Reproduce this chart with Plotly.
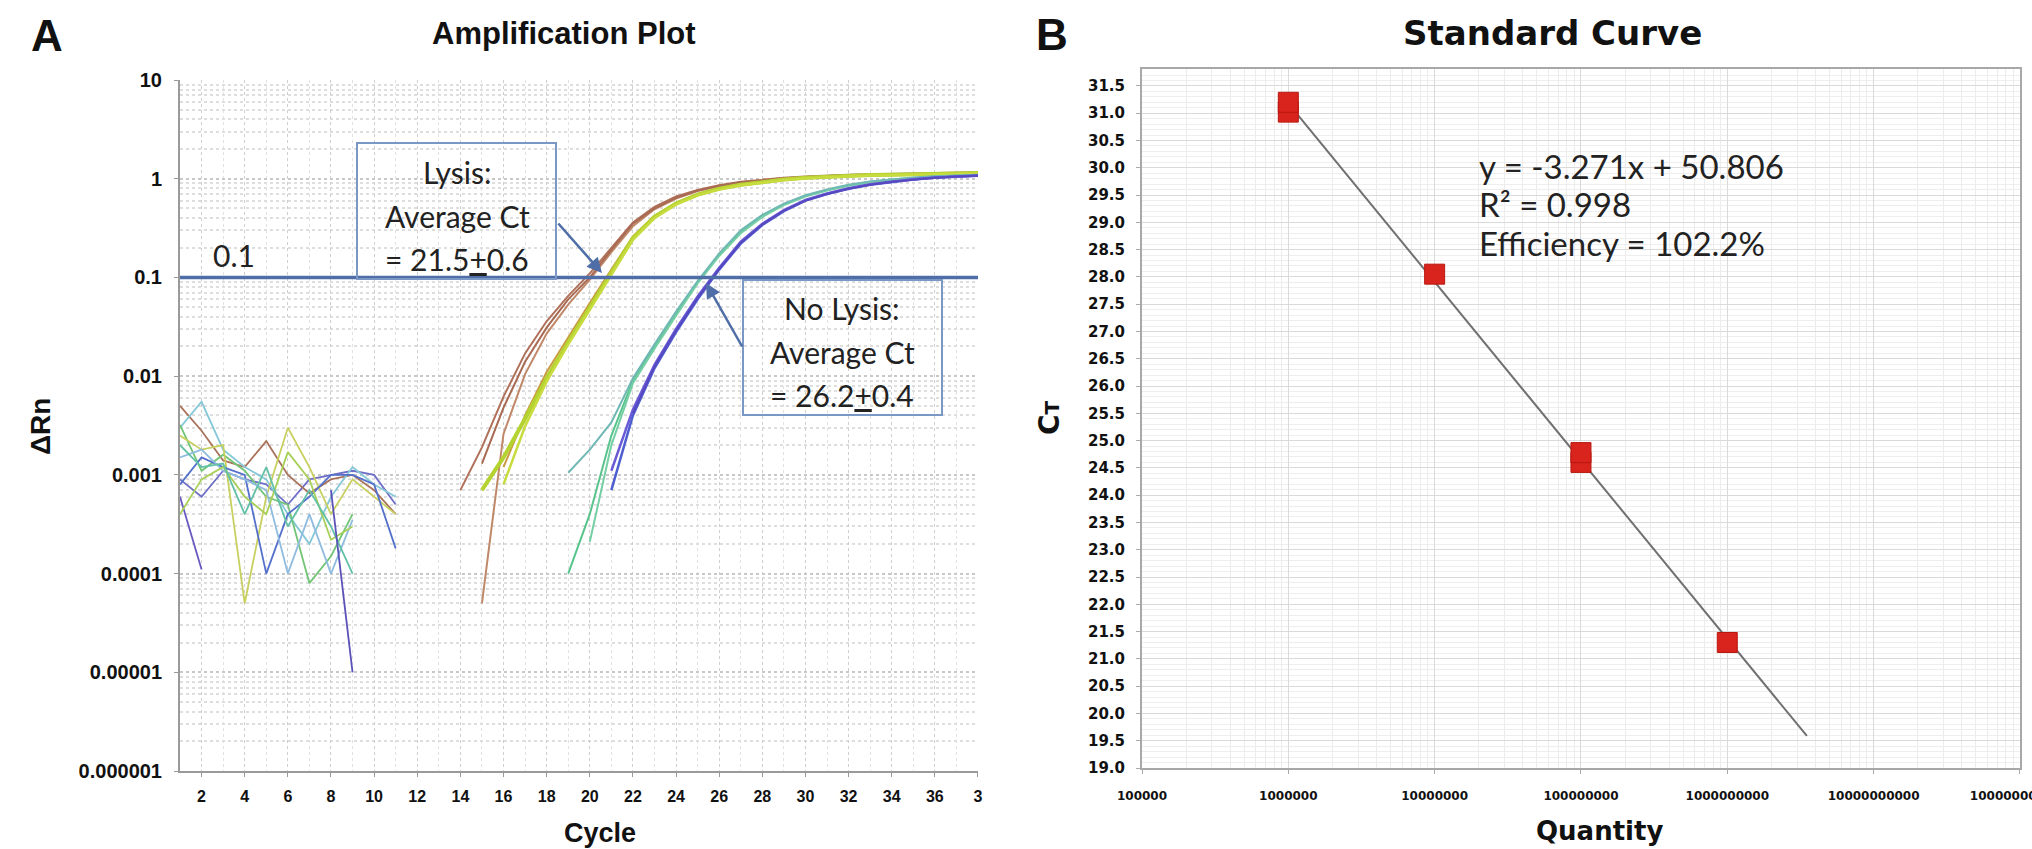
import math
import plotly.graph_objects as go

W, H = 2032, 849

# ---------------- Panel A data (cycle, delta Rn) ----------------
cycle_ticks = list(range(2, 39, 2))
cycle_ticktext = [str(c) for c in cycle_ticks[:-1]] + ["3"]
drn_ticks = [1e-6, 1e-5, 1e-4, 1e-3, 1e-2, 1e-1, 1, 10]
drn_ticktext = ["0.000001", "0.00001", "0.0001", "0.001", "0.01", "0.1", "1", "10"]
threshold = 0.1

# amplification curves (values from their first cycle up to cycle 38)
lysis_brown_1 = [0.0007, 0.0019, 0.0062, 0.017, 0.036, 0.065, 0.11, 0.2, 0.36, 0.52, 0.66, 0.77, 0.86, 0.93,
                 0.98, 1.02, 1.05, 1.08, 1.10, 1.11, 1.12, 1.13, 1.14, 1.15, 1.16]
lysis_brown_2 = [0.00005, 0.0026, 0.0105, 0.027, 0.053, 0.095, 0.18, 0.33, 0.49, 0.63, 0.75, 0.84, 0.91, 0.97,
                 1.01, 1.04, 1.07, 1.09, 1.10, 1.11, 1.12, 1.13, 1.14, 1.15]
lysis_brown_3 = [0.0013, 0.0048, 0.014, 0.031, 0.06, 0.1, 0.19, 0.35, 0.5, 0.64, 0.76, 0.85, 0.92, 0.97,
                 1.01, 1.04, 1.07, 1.09, 1.10, 1.11, 1.12, 1.13, 1.14, 1.15]
lysis_yellow_1 = [0.0007, 0.0015, 0.0037, 0.0095, 0.022, 0.05, 0.115, 0.25, 0.41, 0.56, 0.69, 0.79, 0.87, 0.93,
                  0.98, 1.02, 1.05, 1.07, 1.09, 1.10, 1.11, 1.12, 1.13, 1.14]
lysis_yellow_2 = [0.0008, 0.0031, 0.0088, 0.021, 0.047, 0.108, 0.24, 0.4, 0.55, 0.68, 0.78, 0.86, 0.92, 0.97,
                  1.01, 1.04, 1.06, 1.08, 1.09, 1.10, 1.11, 1.12, 1.13]
lysis_amber = [0.0012, 0.004, 0.011, 0.025, 0.055, 0.12, 0.26, 0.42, 0.57, 0.7, 0.8, 0.88, 0.94, 0.99,
               1.03, 1.06, 1.08, 1.10, 1.11, 1.12, 1.13, 1.14, 1.15]
nolysis_green = [0.0001, 0.0004, 0.0025, 0.009, 0.02, 0.043, 0.09, 0.17, 0.29, 0.42, 0.55, 0.67, 0.77, 0.86,
                 0.93, 0.98, 1.02, 1.05, 1.07, 1.09]
nolysis_seagreen = [0.00021, 0.002, 0.0085, 0.019, 0.041, 0.087, 0.165, 0.28, 0.41, 0.54, 0.66, 0.76, 0.85,
                    0.92, 0.97, 1.01, 1.04, 1.06, 1.08]
nolysis_teal = [0.00105, 0.0018, 0.0034, 0.0095, 0.021, 0.045, 0.092, 0.175, 0.3, 0.43, 0.56, 0.68, 0.78,
                0.87, 0.94, 0.99, 1.03, 1.06, 1.08, 1.10]
nolysis_blue = [0.0007, 0.004, 0.012, 0.028, 0.06, 0.12, 0.22, 0.34, 0.47, 0.6, 0.7, 0.79, 0.87, 0.93, 0.98,
                1.02, 1.05, 1.07]
nolysis_violet = [0.0011, 0.0046, 0.013, 0.03, 0.064, 0.125, 0.23, 0.35, 0.48, 0.61, 0.71, 0.8, 0.88, 0.94,
                  0.99, 1.03, 1.06, 1.08]
nolysis_purple = [0.0042, 0.0125, 0.029, 0.062, 0.122, 0.225, 0.345, 0.475, 0.6, 0.7, 0.79, 0.87, 0.93, 0.98,
                  1.02, 1.05, 1.07]

# baseline noise (values from cycle 1 unless noted)
noise_brown = [0.005, 0.0028, 0.0014, 0.0012, 0.0022, 0.001, 0.00065, 0.0009, 0.001, 0.0007, 0.0004]
noise_teal = [0.003, 0.0055, 0.0018, 0.0012, 0.0009, 0.0004, 0.0002, 0.0006, 0.0012, 0.0008, 0.0006]
noise_green = [0.0032, 0.0011, 0.0016, 0.0011, 0.0006, 0.0005, 0.00008, 0.00015, 0.0004]
noise_yellow = [0.0025, 0.0018, 0.002, 0.00005, 0.0006, 0.003, 0.0012, 0.0004, 0.0009, 0.0006, 0.0004]
noise_purple = [0.0006, 0.00011]
noise_blue = [0.0008, 0.0015, 0.0012, 0.001, 0.0001, 0.0004, 0.0006, 0.001, 0.001, 0.0008, 0.00018]
noise_lightblue = [0.0015, 0.0018, 0.0011, 0.0009, 0.0007, 0.0001, 0.0004, 0.0001, 0.00035]
noise_lime = [0.0004, 0.0009, 0.0012, 0.0006, 0.0004, 0.0017, 0.0009, 0.00022, 0.0003]
noise_seagreen = [0.002, 0.0012, 0.0013, 0.0004, 0.0012, 0.0003, 0.0007, 0.0003, 0.0001]
noise_darkpurple_start = 8
noise_darkpurple = [0.0007, 0.00001]
noise_indigo = [0.0009, 0.0006, 0.0011, 0.0009, 0.0008, 0.0005, 0.0009, 0.001, 0.0011, 0.001, 0.0005]

# ---------------- Panel B data ----------------
quantity = [1e6, 1e6, 1e7, 1e8, 1e8, 1e9]
ct_values = [31.02, 31.2, 28.05, 24.6, 24.78, 21.3]
fit_slope, fit_intercept = -3.271, 50.806
fit_x = [1e6, 3.5e9]
ct_ticks = [19.0 + 0.5 * i for i in range(26)]
qty_ticks = [1e5, 1e6, 1e7, 1e8, 1e9, 1e10, 1e11]
qty_ticktext = ["100000", "1000000", "10000000", "100000000", "1000000000", "10000000000", "100000000000"]

# ---------------- figure ----------------
fig = go.Figure()

def px(x, y):
    return x / W, 1 - y / H

def add_curve(start, vals, color, width):
    xs = list(range(start, start + len(vals)))
    fig.add_trace(go.Scatter(x=xs, y=vals, mode="lines", line=dict(color=color, width=width),
                             xaxis="x", yaxis="y", showlegend=False, hoverinfo="skip"))

noise = [
    (1, noise_indigo, "#7070c8"), (1, noise_brown, "#a8725a"), (1, noise_teal, "#86c8d8"),
    (1, noise_green, "#72c476"), (1, noise_yellow, "#c8d060"), (1, noise_purple, "#6a58c0"),
    (1, noise_blue, "#5470cc"), (1, noise_lightblue, "#90bce0"), (1, noise_lime, "#a8d058"),
    (1, noise_seagreen, "#62c0a6"), (noise_darkpurple_start, noise_darkpurple, "#5a52b8"),
]
for s, v, c in noise:
    add_curve(s, v, c, 1.8)

amp = [
    (14, lysis_brown_1, "#b0705a", 2.0), (15, lysis_brown_2, "#c08868", 2.0), (15, lysis_brown_3, "#a86a52", 2.0),
    (16, lysis_amber, "#c99a40", 2.0), (15, lysis_yellow_1, "#b5d330", 4.0), (16, lysis_yellow_2, "#c8dc40", 2.5),
    (19, nolysis_green, "#58c48c", 2.0), (20, nolysis_seagreen, "#74d0a4", 2.0), (19, nolysis_teal, "#70b8b4", 2.0),
    (21, nolysis_blue, "#4e5ed0", 2.5), (21, nolysis_violet, "#6a5ad8", 2.5), (22, nolysis_purple, "#5848c0", 2.0),
]
for s, v, c, w in amp:
    add_curve(s, v, c, w)

fig.add_trace(go.Scatter(x=[1, 38], y=[threshold, threshold], mode="lines",
                         line=dict(color="#4f6ea8", width=3.5), xaxis="x", yaxis="y",
                         showlegend=False, hoverinfo="skip"))

# Panel B
fit_y = [fit_slope * math.log10(v) + fit_intercept for v in fit_x]
fig.add_trace(go.Scatter(x=fit_x, y=fit_y, mode="lines", line=dict(color="#707070", width=2),
                         xaxis="x2", yaxis="y2", showlegend=False, hoverinfo="skip"))
fig.add_trace(go.Scatter(x=quantity, y=ct_values, mode="markers",
                         marker=dict(symbol="square", size=20, color="#d8241c",
                                     line=dict(color="#b81810", width=1)),
                         xaxis="x2", yaxis="y2", showlegend=False, hoverinfo="skip"))

fig.update_layout(
    width=W, height=H, margin=dict(l=0, r=0, t=0, b=0, autoexpand=False),
    paper_bgcolor="white", plot_bgcolor="white",
    xaxis=dict(domain=[180 / W, 978 / W], range=[1, 38.0005], tickvals=cycle_ticks, ticktext=cycle_ticktext,
               tickfont=dict(family="Liberation Sans", size=16, color="#111", weight="bold"),
               ticks="outside", ticklen=4, tickcolor="#999", ticklabelstandoff=6, automargin=False,
               showline=True, linecolor="#9a9a9a", linewidth=2,
               showgrid=True, gridcolor="#cfcfcf", griddash="dot", gridwidth=1,
               minor=dict(dtick=1, showgrid=True, gridcolor="#e2e2e2", griddash="dot"),
               zeroline=False, anchor="y"),
    yaxis=dict(domain=[(H - 771) / H, (H - 80) / H], type="log", range=[-6, 1],
               tickvals=drn_ticks, ticktext=drn_ticktext,
               tickfont=dict(family="Liberation Sans", size=20, color="#111", weight="bold"),
               ticks="outside", ticklen=4, tickcolor="#999", ticklabelstandoff=8, automargin=False,
               showline=True, linecolor="#9a9a9a", linewidth=2,
               showgrid=True, gridcolor="#c8c8c8", griddash="dot", gridwidth=1.5,
               minor=dict(dtick="D1", showgrid=True, gridcolor="#dedede", griddash="dot"),
               zeroline=False, anchor="x"),
    xaxis2=dict(domain=[1142 / W, 2020 / W], type="log", range=[5, 11.0005], tickvals=qty_ticks,
                ticktext=qty_ticktext, ticklabeloverflow="allow",
                tickfont=dict(family="DejaVu Sans", size=12, color="#111", weight="bold"),
                ticks="outside", ticklen=4, tickcolor="#aaa", ticklabelstandoff=12, automargin=False,
                showline=True, linecolor="#a8a8a8", linewidth=2, mirror=True,
                showgrid=True, gridcolor="#dadada", gridwidth=1,
                minor=dict(dtick="D1", showgrid=True, gridcolor="#ececec"),
                zeroline=False, anchor="y2"),
    yaxis2=dict(domain=[(H - 768) / H, (H - 69) / H], range=[19.0, 31.81], tickvals=ct_ticks,
                tickformat=".1f",
                tickfont=dict(family="DejaVu Sans", size=15, color="#111", weight="bold"),
                ticks="outside", ticklen=4, tickcolor="#aaa", ticklabelstandoff=8, automargin=False,
                showline=True, linecolor="#a8a8a8", linewidth=2, mirror=True,
                showgrid=True, gridcolor="#dadada", gridwidth=1,
                minor=dict(dtick=0.1, showgrid=True, gridcolor="#eeeeee"),
                zeroline=False, anchor="x2"),
)

def text(x, y, s, size, family="Liberation Sans", bold=True, angle=0, xanchor="center", color="#111"):
    X, Y = px(x, y)
    fig.add_annotation(x=X, y=Y, xref="paper", yref="paper", text=s, showarrow=False,
                       xanchor=xanchor, yanchor="middle", textangle=angle,
                       font=dict(family=family, size=size, color=color,
                                 weight="bold" if bold else "normal"))

# Panel letters and titles
text(47, 36, "A", 44)
text(564, 33, "Amplification Plot", 31)
text(1052, 35, "B", 44)
text(1552, 33, "Standard Curve", 34, family="DejaVu Sans")
text(40, 427, "ΔRn", 28, angle=-90)
text(600, 833, "Cycle", 27)
text(1050, 418, "C<span style='font-size:20px'>T</span>", 28, family="DejaVu Sans", angle=-90)
text(1599, 831, "Quantity", 26, family="DejaVu Sans")

# Threshold label and callout boxes
text(234, 255, "0.1", 30, family="Lato", bold=False, color="#222")
box_col = "#7b97c6"
fig.add_shape(type="rect", xref="paper", yref="paper", x0=357 / W, x1=556 / W, y0=1 - 279 / H,
              y1=1 - 143 / H, line=dict(color=box_col, width=2), fillcolor="rgba(0,0,0,0)")
fig.add_shape(type="rect", xref="paper", yref="paper", x0=743 / W, x1=942 / W, y0=1 - 415 / H,
              y1=1 - 280 / H, line=dict(color=box_col, width=2), fillcolor="rgba(0,0,0,0)")
for yy, s in [(172, "Lysis:"), (216, "Average Ct"), (259, "= 21.5<u>+</u>0.6")]:
    text(457, yy, s, 30, family="Lato", bold=False, color="#222")
for yy, s in [(308, "No Lysis:"), (352, "Average Ct"), (395, "= 26.2<u>+</u>0.4")]:
    text(842, yy, s, 30, family="Lato", bold=False, color="#222")

# callout pointers
for tip, tail in [((602, 273), (557, 222)), ((706, 283), (743, 348))]:
    X, Y = px(*tip)
    fig.add_annotation(x=X, y=Y, xref="paper", yref="paper", text="", showarrow=True,
                       ax=tail[0] - tip[0], ay=tail[1] - tip[1], arrowhead=2, arrowsize=1.2,
                       arrowwidth=2.5, arrowcolor="#4f6ea8")

# Equation text
for yy, s in [(166, "y = -3.271x + 50.806"), (204, "R² = 0.998"), (243, "Efficiency = 102.2%")]:
    text(1477, yy, s, 33, family="Lato", bold=False, xanchor="left", color="#222")

fig.write_html("out.html")
